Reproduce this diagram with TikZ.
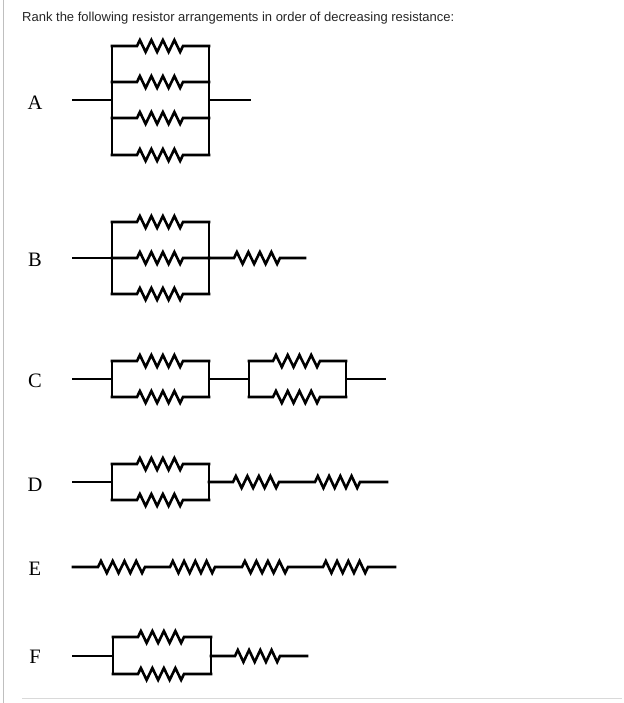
\documentclass[tikz,border=0pt]{standalone}
\usepackage{fontspec}
\setmainfont{Liberation Serif}
\newfontfamily\titlefont{Liberation Sans}
\begin{document}
\begin{tikzpicture}[x=1pt,y=-1pt,wire/.style={line width=2.6pt,line join=miter,line cap=rect},lbl/.style={font=\fontsize{20.5}{22}\selectfont,anchor=center}]
\useasboundingbox (0,0) rectangle (623,703);
\fill[white] (0,0) rectangle (623,703);
\draw[gray!50,line width=1pt] (3,0)--(3,703);
\draw[gray!30,line width=1pt] (22,698)--(622,698);
\node[anchor=base west,font=\titlefont\fontsize{13}{15}\selectfont,text=black!85,inner sep=0] (title) at (22,22) {Rank the following resistor arrangements in order of decreasing resistance:};
% resistor: x1 x2 y
\newcommand\rz[3]{%
  (#1,#3) -- ++({(#2-#1)/16},-6) -- ++({(#2-#1)/8},12) -- ++({(#2-#1)/8},-12) -- ++({(#2-#1)/8},12) -- ++({(#2-#1)/8},-12) -- ++({(#2-#1)/8},12) -- ++({(#2-#1)/8},-12) -- ++({(#2-#1)/8},12) -- (#2,#3)}
\newcommand\br[5]{% xl r1 r2 xr y
  \draw[wire] (#1,#5) -- \rz{#2}{#3}{#5} -- (#4,#5);}
% A
\node[lbl] (A) at (35,103) {A};
\foreach \y in {46,82,118,155} {\br{112}{137}{183}{209}{\y}}
\draw[wire] (112,46)--(112,155) (209,46)--(209,155) (73,100)--(112,100) (209,100)--(250,100);
% B
\node[lbl] (B) at (35,260) {B};
\foreach \y in {222,258,294} {\br{112}{137}{183}{209}{\y}}
\draw[wire] (112,222)--(112,294) (209,222)--(209,294) (73,258)--(112,258);
\draw[wire] (209,258) -- \rz{234}{280}{258} -- (305,258);
% C
\node[lbl] (C) at (35,381) {C};
\foreach \y in {361,397} {\br{112}{137}{183}{209}{\y}\br{249}{273}{320}{346}{\y}}
\draw[wire] (112,361)--(112,397) (209,361)--(209,397) (249,361)--(249,397) (346,361)--(346,397)
  (73,379)--(112,379) (209,379)--(249,379) (346,379)--(385,379);
% D
\node[lbl] (D) at (35,485) {D};
\foreach \y in {464,500} {\br{112}{137}{183}{209}{\y}}
\draw[wire] (112,464)--(112,500) (209,464)--(209,500) (73,482)--(112,482);
\draw[wire] (209,482) -- \rz{233}{279}{482} -- \rz{315}{360}{482} -- (387,482);
% E
\node[lbl] (E) at (35,569) {E};
\draw[wire] (73,567) -- \rz{98}{145}{567} -- \rz{170}{215}{567} -- \rz{242}{288}{567} -- \rz{323}{368}{567} -- (395,567);
% F
\node[lbl] (F) at (35,657) {F};
\foreach \y in {637,674} {\br{113}{138}{184}{211}{\y}}
\draw[wire] (113,637)--(113,674) (211,637)--(211,674) (73,656)--(113,656);
\draw[wire] (211,656) -- \rz{235}{280}{656} -- (307,656);
\end{tikzpicture}
\end{document}
